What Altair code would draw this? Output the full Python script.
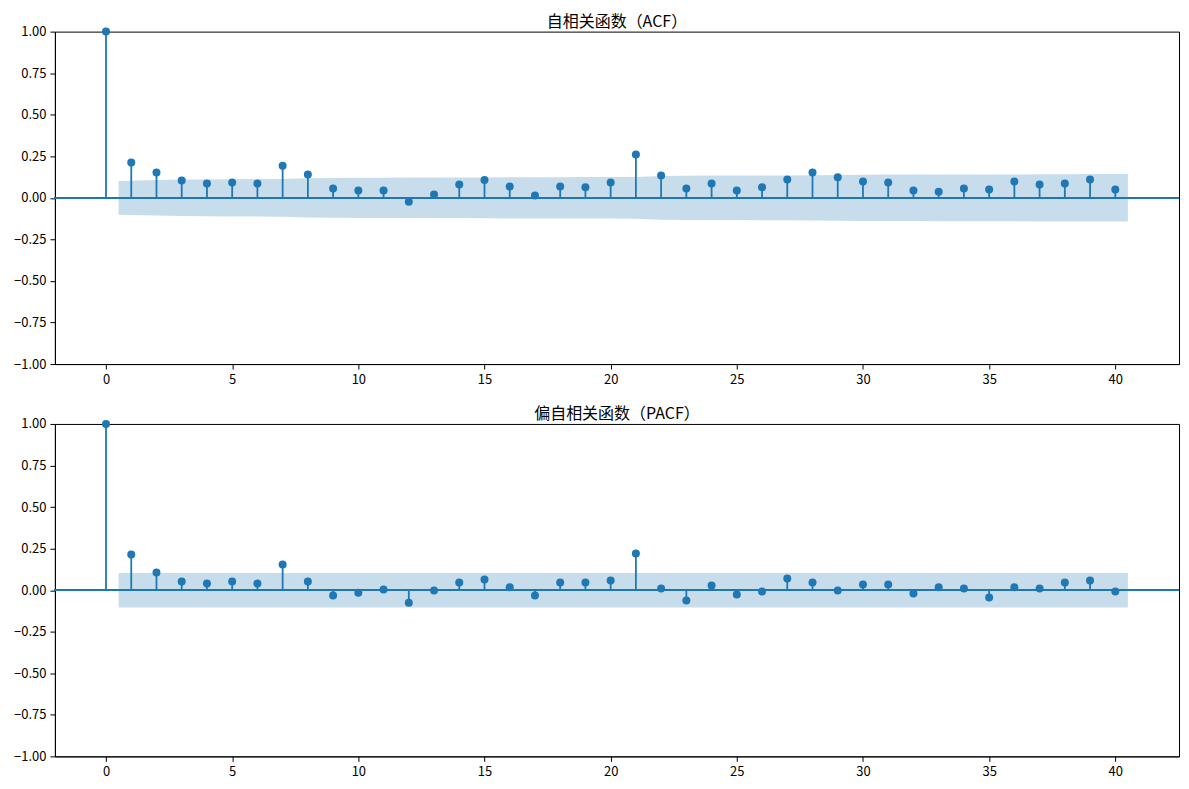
import altair as alt
import pandas as pd

lags = list(range(41))
acf_vals = [1.0, 0.213, 0.153, 0.104, 0.086, 0.092, 0.086, 0.193, 0.141, 0.056,
            0.044, 0.044, -0.024, 0.020, 0.080, 0.108, 0.068, 0.014, 0.068, 0.064,
            0.092, 0.261, 0.135, 0.056, 0.086, 0.044, 0.064, 0.110, 0.153, 0.124,
            0.098, 0.092, 0.044, 0.036, 0.056, 0.050, 0.098, 0.080, 0.086, 0.110,
            0.050]
pacf_vals = [1.0, 0.215, 0.106, 0.052, 0.040, 0.052, 0.040, 0.155, 0.052, -0.032,
             -0.016, 0.004, -0.076, -0.002, 0.046, 0.064, 0.018, -0.032, 0.046, 0.046,
             0.058, 0.221, 0.010, -0.062, 0.028, -0.026, -0.008, 0.070, 0.046, -0.002,
             0.034, 0.034, -0.020, 0.018, 0.010, -0.044, 0.018, 0.010, 0.046, 0.058,
             -0.008]
# confidence band half-widths for lags 1..40
acf_band = [0.102, 0.107, 0.110, 0.111, 0.112, 0.113, 0.114, 0.118, 0.120, 0.121,
            0.121, 0.122, 0.122, 0.122, 0.123, 0.124, 0.124, 0.124, 0.125, 0.125,
            0.126, 0.132, 0.133, 0.134, 0.134, 0.135, 0.135, 0.136, 0.138, 0.139,
            0.140, 0.140, 0.141, 0.141, 0.141, 0.141, 0.142, 0.142, 0.143, 0.143]
pacf_band = [0.104] * 40

titles = ["自相关函数（ACF）", "偏自相关函数（PACF）"]
x_ticks = [0, 5, 10, 15, 20, 25, 30, 35, 40]
y_ticks = [-1.0, -0.75, -0.5, -0.25, 0.0, 0.25, 0.5, 0.75, 1.0]

BLUE = "#1f77b4"
FONT = "Noto Sans CJK SC"
W, H = 1126, 333


def panel(vals, band, title):
    df = pd.DataFrame({"lag": lags, "value": vals, "zero": [0.0] * len(lags)})
    band_lags = [float(l) for l in lags[1:]]
    band_lags[0] -= 0.5
    band_lags[-1] += 0.5
    bdf = pd.DataFrame({"bx": band_lags, "hi": band, "lo": [-b for b in band]})

    xsc = alt.Scale(domain=[-2.025, 42.525], nice=False, zero=False)
    ysc = alt.Scale(domain=[-1, 1], nice=False)
    xax = alt.Axis(values=x_ticks, format="d", title=None)
    yax = alt.Axis(values=y_ticks, format=".2f", title=None)

    area = alt.Chart(bdf).mark_area(color=BLUE, opacity=0.25).encode(
        x=alt.X("bx:Q", scale=xsc, axis=xax),
        y=alt.Y("lo:Q", scale=ysc, axis=yax),
        y2="hi:Q",
    )
    hline = alt.Chart(df).mark_rule(color=BLUE, strokeWidth=1.8).encode(
        y=alt.datum(0)
    )
    stems = alt.Chart(df).mark_rule(color=BLUE, strokeWidth=1.8).encode(
        x=alt.X("lag:Q", scale=xsc, axis=xax),
        y=alt.Y("zero:Q", scale=ysc, axis=yax),
        y2="value:Q",
    )
    dots = alt.Chart(df).mark_circle(color=BLUE, size=64, opacity=1).encode(
        x=alt.X("lag:Q", scale=xsc, axis=xax),
        y=alt.Y("value:Q", scale=ysc, axis=yax),
    )
    return alt.layer(area, hline, stems, dots).properties(
        width=W, height=H,
        title=alt.TitleParams(title, fontSize=16, font=FONT, fontWeight="normal",
                              color="black", offset=-4),
    )


chart = alt.vconcat(
    panel(acf_vals, acf_band, titles[0]),
    panel(pacf_vals, pacf_band, titles[1]),
    spacing=18,
).properties(
    padding={"left": 0, "top": 4, "right": 0, "bottom": 0}
).configure_view(
    stroke="black", strokeWidth=1
).configure_axis(
    grid=False, domainColor="black", tickColor="black", labelColor="black",
    labelFont=FONT, labelFontSize=13, tickSize=5, labelPadding=4,
    domainWidth=1, tickWidth=1,
).configure_axisY(
    minExtent=46, maxExtent=46
)

chart.save("out.html", embed_options={"renderer": "svg", "actions": False})
